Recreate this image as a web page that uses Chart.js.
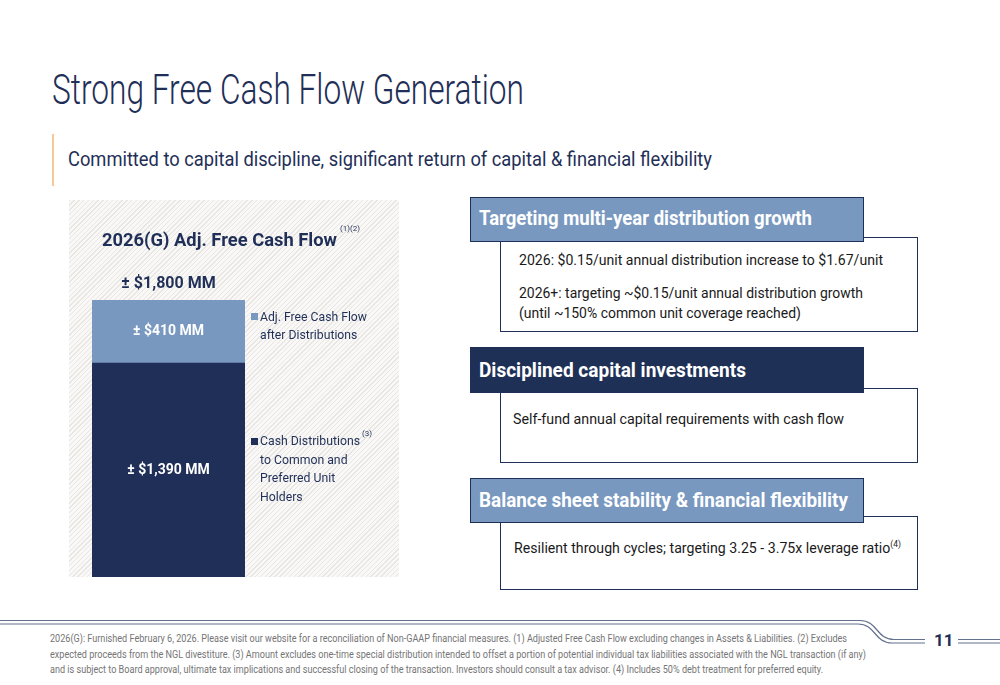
<!DOCTYPE html>
<html>
<head>
<meta charset="utf-8">
<script src="https://cdn.jsdelivr.net/npm/chart.js@4.4.1/dist/chart.umd.min.js"></script>
<style>
  html, body { margin:0; padding:0; background:#ffffff; }
  body { width:1000px; height:685px; position:relative; overflow:hidden; font-family: Roboto, "Liberation Sans", sans-serif; }
  .t { position:absolute; white-space:nowrap; transform-origin:0 50%; line-height:1; }
  .hatch { position:absolute; left:69px; top:200px; width:330px; height:377px;
    background: repeating-linear-gradient(135deg, #e8e6e2 0px, #e8e6e2 1px, #f9f8f6 1px, #f9f8f6 3.4px); }
  #chartCanvas { position:absolute; left:69px; top:200px; }
  .hdr { position:absolute; left:470px; width:394px; height:43px; border:1.5px solid #1f2f57; box-sizing:border-box; }
  .box { position:absolute; left:500px; width:418px; border:1.5px solid #1f2f57; box-sizing:border-box; background:#fff; }
  .sq { position:absolute; width:7px; height:7px; }
</style>
</head>
<body>
<!-- Page title -->
<div class="t" data-w="472" style="left:52px; top:69px; font-size:42px; font-weight:300; color:#1f2f57;">Strong Free Cash Flow Generation</div>
<div style="position:absolute; left:52px; top:134px; width:1.5px; height:52px; background:#f6c894;"></div>
<div class="t" data-w="644" style="left:68px; top:149px; font-size:20px; color:#1f2f57;">Committed to capital discipline, significant return of capital &amp; financial flexibility</div>

<!-- Chart panel -->
<div class="hatch"></div>
<canvas id="chartCanvas" width="330" height="377"></canvas>
<div class="t" data-w="235" style="left:102px; top:230px; font-size:19px; font-weight:700; color:#1f2f57;">2026(G) Adj. Free Cash Flow</div>
<div class="t" style="left:340px; top:225px; font-size:8px; color:#1f2f57;">(1)(2)</div>

<!-- Legend -->
<div class="sq" style="left:251px; top:313px; background:#7898bf;"></div>
<div class="t" data-w="107" style="left:260px; top:308px; font-size:13px; line-height:18px; color:#1f2f57;">Adj. Free Cash Flow<br>after Distributions</div>
<div class="sq" style="left:251px; top:438px; background:#1f2f57;"></div>
<div class="t" data-w="100" style="left:260px; top:432px; font-size:13px; line-height:18.7px; color:#1f2f57;">Cash Distributions<br>to Common and<br>Preferred Unit<br>Holders</div>
<div class="t" style="left:362px; top:430px; font-size:8px; color:#1f2f57;">(3)</div>

<!-- Right boxes -->
<div class="box" style="top:237px; height:95px;"></div>
<div class="hdr" style="top:197px; height:45px; background:#7898bf;"></div>
<div class="t" data-w="333" style="left:479px; top:208px; font-size:20px; font-weight:700; color:#ffffff;">Targeting multi-year distribution growth</div>
<div class="t" data-w="364" style="left:519px; top:253px; font-size:15px; color:#1a1a1a;">2026: $0.15/unit annual distribution increase to $1.67/unit</div>
<div class="t" data-w="344" style="left:519px; top:283px; font-size:15px; line-height:20px; color:#1a1a1a;">2026+: targeting ~$0.15/unit annual distribution growth<br>(until ~150% common unit coverage reached)</div>

<div class="box" style="top:388px; height:75px;"></div>
<div class="hdr" style="top:347px; height:46px; background:#1f3057;"></div>
<div class="t" data-w="267" style="left:479px; top:360px; font-size:20px; font-weight:700; color:#ffffff;">Disciplined capital investments</div>
<div class="t" data-w="331" style="left:513px; top:412px; font-size:15px; color:#1a1a1a;">Self-fund annual capital requirements with cash flow</div>

<div class="box" style="top:516px; height:74px;"></div>
<div class="hdr" style="top:478px; height:45px; background:#7898bf;"></div>
<div class="t" data-w="369" style="left:479px; top:490px; font-size:20px; font-weight:700; color:#ffffff;">Balance sheet stability &amp; financial flexibility</div>
<div class="t" data-w="387" style="left:514px; top:541px; font-size:15px; color:#1a1a1a;">Resilient through cycles; targeting 3.25 - 3.75x leverage ratio<span style="font-size:9px; position:relative; top:-6px;">(4)</span></div>

<!-- Footer -->
<svg style="position:absolute; left:0; top:610px;" width="1000" height="40">
  <path d="M0 10.5 L860 10.5 C878 10.5 876 29.5 894 29.5 L925 29.5" fill="none" stroke="#63708e" stroke-width="1.2"/>
  <path d="M0 14 L858 14 C876 14 874 33 892 33 L925 33" fill="none" stroke="#63708e" stroke-width="1.2"/>
  <path d="M958 29.5 L1000 29.5 M958 33 L1000 33" fill="none" stroke="#63708e" stroke-width="1.2"/>
</svg>
<div class="t" style="left:934px; top:632px; font-size:17px; font-weight:700; color:#1f2f57;">11</div>
<div class="t" data-w="816" style="left:50px; top:631px; font-size:10px; line-height:15.5px; color:#757575;">2026(G): Furnished February 6, 2026. Please visit our website for a reconciliation of Non-GAAP financial measures. (1) Adjusted Free Cash Flow excluding changes in Assets &amp; Liabilities. (2) Excludes<br>expected proceeds from the NGL divestiture. (3) Amount excludes one-time special distribution intended to offset a portion of potential individual tax liabilities associated with the NGL transaction (if any)<br>and is subject to Board approval, ultimate tax implications and successful closing of the transaction. Investors should consult a tax advisor. (4) Includes 50% debt treatment for preferred equity.</div>

<script>
// ---- Data ----
const categories = ['2026(G)'];
const cashDistributions = [1390];      // Cash Distributions to Common and Preferred Unit Holders ($MM)
const fcfAfterDistributions = [410];   // Adj. Free Cash Flow after Distributions ($MM)
const totalAdjFCF = [1800];            // 2026(G) Adj. Free Cash Flow ($MM)
const seriesNames = ['Cash Distributions to Common and Preferred Unit Holders', 'Adj. Free Cash Flow after Distributions'];

// fit HTML text widths
document.querySelectorAll('[data-w]').forEach(el => {
  const w = el.getBoundingClientRect().width;
  const target = parseFloat(el.dataset.w);
  if (w > 0) el.style.transform = 'scaleX(' + (target / w) + ')';
});

const fmt = v => v.toLocaleString('en-US');

const valueLabels = {
  id: 'valueLabels',
  afterDatasetsDraw(chart) {
    const ctx = chart.ctx;
    ctx.save();
    ctx.textAlign = 'center';
    ctx.textBaseline = 'middle';
    chart.data.datasets.forEach((ds, i) => {
      const meta = chart.getDatasetMeta(i);
      meta.data.forEach((bar, j) => {
        const cy = (bar.y + bar.base) / 2;
        ctx.fillStyle = '#ffffff';
        ctx.font = 'bold 14px Roboto, sans-serif';
        ctx.fillText('± $' + fmt(ds.data[j]) + ' MM', bar.x, cy);
      });
    });
    const topBar = chart.getDatasetMeta(chart.data.datasets.length - 1).data[0];
    ctx.fillStyle = '#1f2f57';
    ctx.font = 'bold 16px Roboto, sans-serif';
    ctx.fillText('± $' + fmt(totalAdjFCF[0]) + ' MM', topBar.x, topBar.y - 16);
    ctx.restore();
  }
};

new Chart(document.getElementById('chartCanvas'), {
  type: 'bar',
  data: {
    labels: categories,
    datasets: [
      { label: seriesNames[0], data: cashDistributions, backgroundColor: '#1f2f57', borderWidth: 0 },
      { label: seriesNames[1], data: fcfAfterDistributions, backgroundColor: '#7898bf', borderWidth: 0 }
    ]
  },
  options: {
    responsive: false,
    devicePixelRatio: 1,
    animation: false,
    layout: { padding: { left: 23, right: 154, top: 100, bottom: 0 } },
    datasets: { bar: { categoryPercentage: 1.0, barPercentage: 1.0 } },
    scales: {
      x: { stacked: true, display: false },
      y: { stacked: true, display: false, min: 0, max: 1800 }
    },
    plugins: { legend: { display: false }, tooltip: { enabled: false }, title: { display: false } }
  },
  plugins: [valueLabels]
});
</script>
</body>
</html>
